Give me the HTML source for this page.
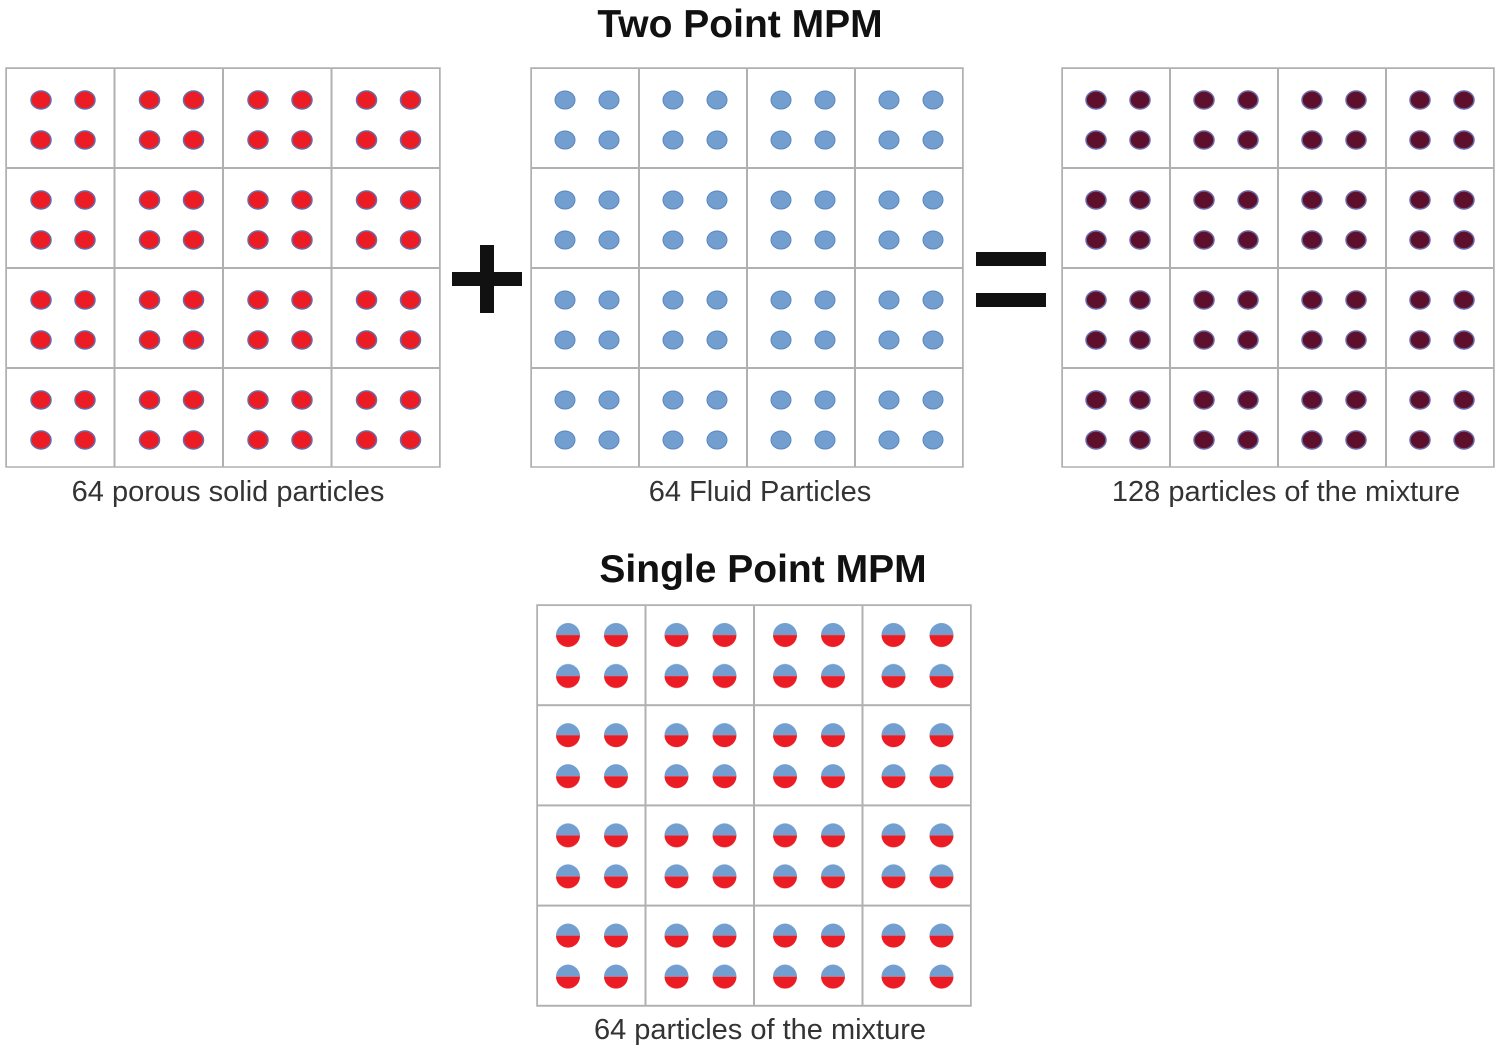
<!DOCTYPE html>
<html><head><style>body{margin:0;background:#fff}svg{display:block}</style></head><body>
<svg width="1500" height="1050" xmlns="http://www.w3.org/2000/svg" font-family="Liberation Sans, sans-serif">
<defs>
<g id="rd"><ellipse rx="10" ry="9" fill="#ec1c24" stroke="#6a6aa8" stroke-width="1.5"/></g>
<g id="bd"><ellipse rx="10" ry="9" fill="#729fcf" stroke="#5a86c0" stroke-width="1"/></g>
<g id="dd"><ellipse rx="10" ry="9" fill="#5e0f2c" stroke="#6a6aa8" stroke-width="1.5"/></g>
<g id="md"><path d="M-12,0 A12,12 0 0 1 12,0 Z" fill="#729fcf"/><path d="M-12,0 A12,12 0 0 0 12,0 Z" fill="#ec1c24"/></g>
<pattern id="p1" patternUnits="userSpaceOnUse" x="6" y="68" width="108.5" height="100">
<rect width="108.5" height="100" fill="#fff" stroke="#b0b0b0" stroke-width="2"/>
<use href="#rd" x="35" y="32"/><use href="#rd" x="79" y="32"/><use href="#rd" x="35" y="72"/><use href="#rd" x="79" y="72"/></pattern>
<pattern id="p2" patternUnits="userSpaceOnUse" x="531" y="68" width="108" height="100">
<rect width="108" height="100" fill="#fff" stroke="#b0b0b0" stroke-width="2"/>
<use href="#bd" x="34" y="32"/><use href="#bd" x="78" y="32"/><use href="#bd" x="34" y="72"/><use href="#bd" x="78" y="72"/></pattern>
<pattern id="p3" patternUnits="userSpaceOnUse" x="1062" y="68" width="108" height="100">
<rect width="108" height="100" fill="#fff" stroke="#b0b0b0" stroke-width="2"/>
<use href="#dd" x="34" y="32"/><use href="#dd" x="78" y="32"/><use href="#dd" x="34" y="72"/><use href="#dd" x="78" y="72"/></pattern>
<pattern id="p4" patternUnits="userSpaceOnUse" x="537" y="605" width="108.5" height="100.2">
<rect width="108.5" height="100.2" fill="#fff" stroke="#b0b0b0" stroke-width="2"/>
<use href="#md" x="31" y="30"/><use href="#md" x="79" y="30"/><use href="#md" x="31" y="71"/><use href="#md" x="79" y="71"/></pattern>
</defs>
<text x="740" y="37" font-size="39" font-weight="bold" text-anchor="middle" fill="#111">Two Point MPM</text>
<rect x="6" y="68" width="434" height="399" fill="url(#p1)" stroke="#b0b0b0" stroke-width="1.5"/>
<rect x="531" y="68" width="432" height="399" fill="url(#p2)" stroke="#b0b0b0" stroke-width="1.5"/>
<rect x="1062" y="68" width="432" height="399" fill="url(#p3)" stroke="#b0b0b0" stroke-width="1.5"/>
<rect x="452" y="272" width="70" height="14" fill="#111"/>
<rect x="480" y="245" width="14" height="68" fill="#111"/>
<rect x="976" y="252" width="70" height="14" fill="#111"/>
<rect x="976" y="293" width="70" height="14" fill="#111"/>
<g font-size="29" fill="#333" text-anchor="middle">
<text x="228" y="501">64 porous solid particles</text>
<text x="760" y="501">64 Fluid Particles</text>
<text x="1286" y="501">128 particles of the mixture</text>
<text x="760" y="1039">64 particles of the mixture</text>
</g>
<text x="763" y="582" font-size="39" font-weight="bold" text-anchor="middle" fill="#111">Single Point MPM</text>
<rect x="537" y="605" width="434" height="401" fill="url(#p4)" stroke="#b0b0b0" stroke-width="1.5"/>
</svg>
</body></html>
